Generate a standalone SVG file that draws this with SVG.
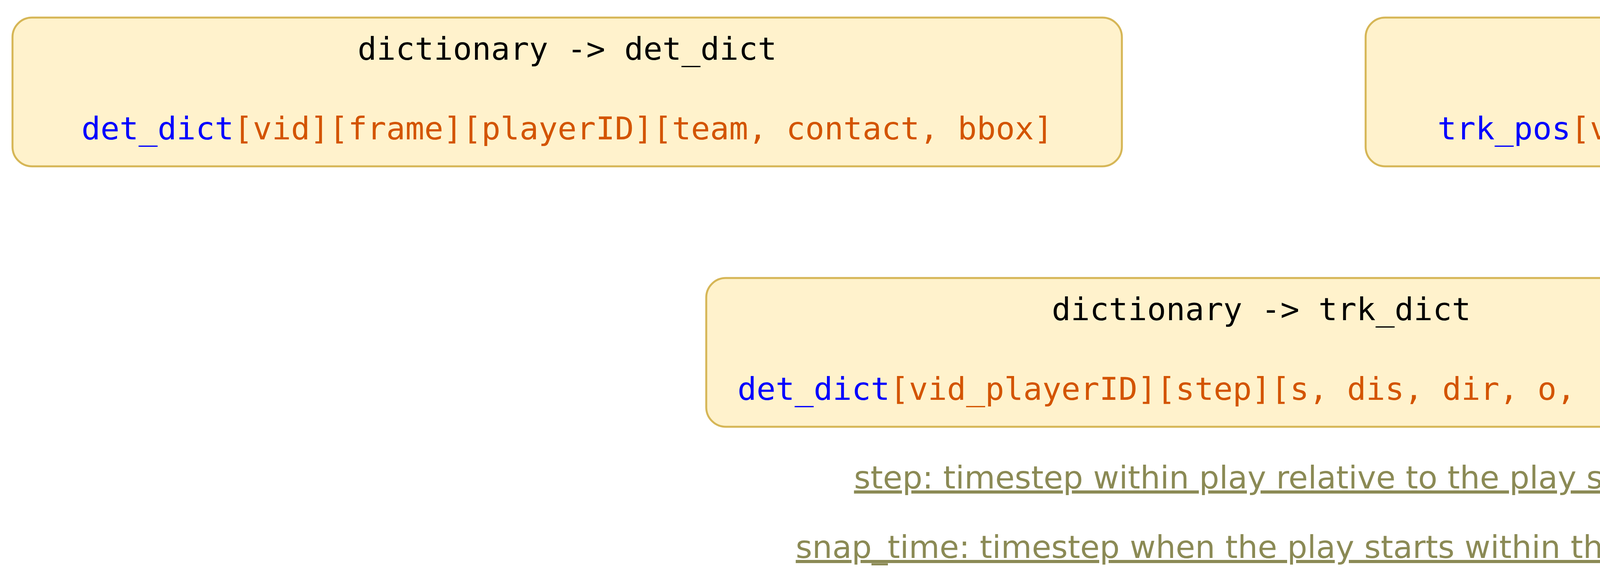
<svg xmlns="http://www.w3.org/2000/svg" width="6180" height="1488" viewBox="0 0 6180 1488">
<style>
.box{fill:#FFF2CC;stroke:#D6B656;stroke-width:5}
.mono{font-family:"DejaVu Sans Mono","Liberation Mono",monospace;font-size:81px;text-anchor:middle}
.t{fill:#000000}
.k{fill:#0000FF}
.v{fill:#D35400}
.note{font-family:"DejaVu Sans","Liberation Sans",sans-serif;font-size:81px;fill:#8B8A55;text-anchor:middle;text-decoration:underline}
</style>
<rect width="6180" height="1488" fill="#FFFFFF"/>
<g id="node-det-dict">
<rect class="box" x="32" y="45" width="2840" height="381" rx="50" ry="50"/>
<text class="mono t" x="1452" y="153">dictionary -&gt; det_dict</text>
<text class="mono" x="1452" y="357"><tspan class="k">det_dict</tspan><tspan class="v">[vid][frame][playerID][team, contact, bbox]</tspan></text>
</g>
<g id="node-trk-pos">
<rect class="box" x="3496" y="45" width="2660" height="381" rx="50" ry="50"/>
<text class="mono t" x="4826" y="153">dictionary -&gt; trk_pos</text>
<text class="mono" x="4826" y="357"><tspan class="k">trk_pos</tspan><tspan class="v">[vid_step][playerID][x_pos, y_pos, team]</tspan></text>
</g>
<g id="node-trk-dict">
<rect class="box" x="1808" y="712" width="2842" height="381" rx="50" ry="50"/>
<text class="mono t" x="3229" y="820">dictionary -&gt; trk_dict</text>
<text class="mono" x="3229" y="1024"><tspan class="k">det_dict</tspan><tspan class="v">[vid_playerID][step][s, dis, dir, o, ..., team]</tspan></text>
</g>
<g id="notes">
<text class="note" x="3231" y="1251">step: timestep within play relative to the play start.</text>
<text class="note" x="3231" y="1429">snap_time: timestep when the play starts within the video.</text>
</g>
<g id="connectors"/>
</svg>
